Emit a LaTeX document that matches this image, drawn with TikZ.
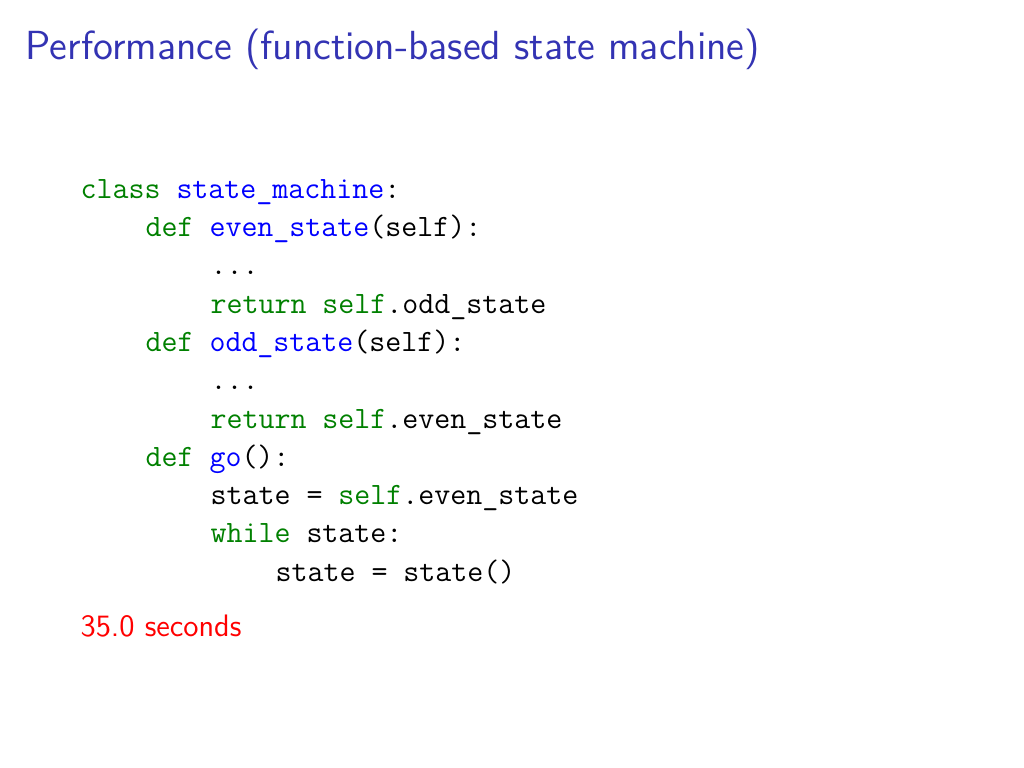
\documentclass[tikz,border=0pt]{standalone}
\definecolor{titleblue}{RGB}{51,51,179}
\definecolor{kw}{RGB}{0,128,0}
\definecolor{fn}{RGB}{0,0,255}
\definecolor{red1}{RGB}{255,0,0}
\newcommand{\K}[1]{\textcolor{kw}{#1}}
\newcommand{\F}[1]{\textcolor{fn}{#1}}
\begin{document}
\begin{tikzpicture}[x=0.3543pt,y=-0.3543pt,
  code/.style={anchor=base west,inner sep=0pt,font=\fontsize{11}{13}\ttfamily}]
\useasboundingbox (0,0) rectangle (1024,768);
\node[anchor=base west,inner sep=0pt,font=\fontsize{14.4}{17}\sffamily,text=titleblue] (title) at (25,60) {Performance (function-based state machine)};
\node[code] (l1) at (80,198) {\K{class}\ \F{state\_machine}:};
\node[code] (l2) at (145,236) {\K{def}\ \F{even\_state}(self):};
\node[code] (l3) at (210,274) {...};
\node[code] (l4) at (210,313) {\K{return}\ \K{self}.odd\_state};
\node[code] (l5) at (145,351) {\K{def}\ \F{odd\_state}(self):};
\node[code] (l6) at (210,389) {...};
\node[code] (l7) at (210,428) {\K{return}\ \K{self}.even\_state};
\node[code] (l8) at (145,466) {\K{def}\ \F{go}():};
\node[code] (l9) at (210,504) {state = \K{self}.even\_state};
\node[code] (l10) at (210,542) {\K{while}\ state:};
\node[code] (l11) at (275,581) {state = state()};
\node[anchor=base west,inner sep=0pt,font=\fontsize{11}{13}\sffamily,text=red1] (res) at (80,636) {35.0 seconds};
\end{tikzpicture}
\end{document}
